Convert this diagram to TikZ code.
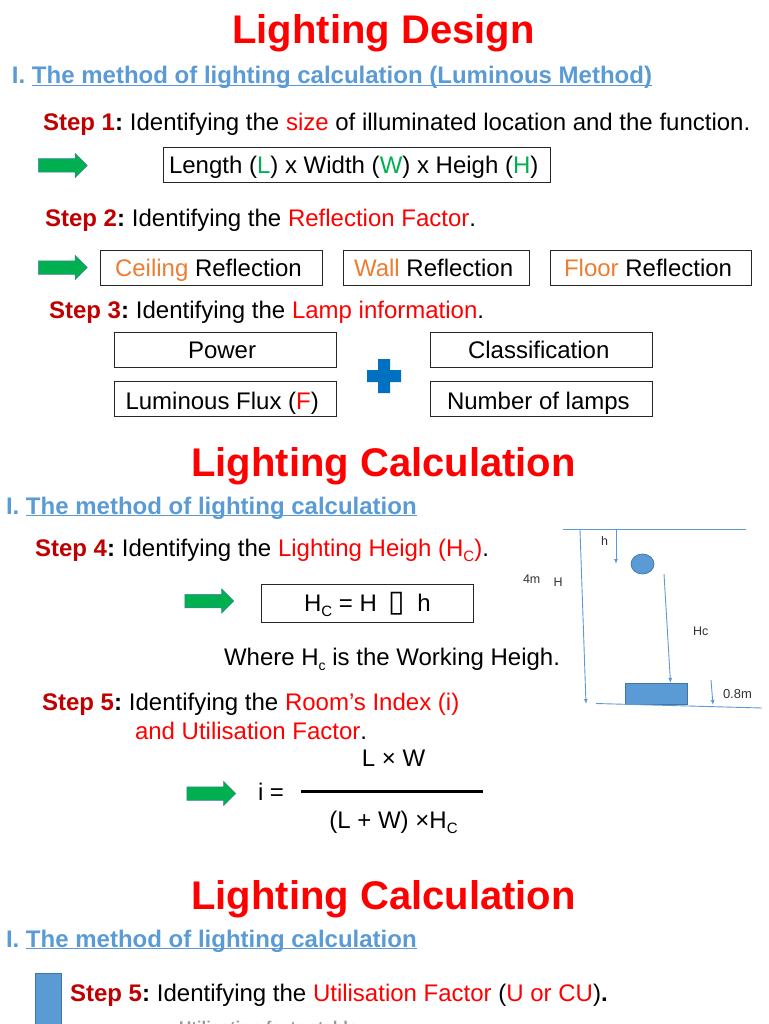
\documentclass[tikz,border=0pt]{standalone}
\usepackage{fontspec}
\setmainfont{Liberation Sans}
\newfontfamily\symfont{DejaVu Sans}
\usetikzlibrary{shapes.arrows,shapes.geometric,arrows.meta}
\definecolor{tred}{HTML}{FF0000}
\definecolor{sred}{HTML}{C00000}
\definecolor{lblue}{HTML}{5B9BD5}
\definecolor{ggreen}{HTML}{00B050}
\definecolor{oorange}{HTML}{ED7D31}
\definecolor{plusblue}{HTML}{0070C0}
\newcommand{\Rd}[1]{\textcolor{tred}{#1}}
\newcommand{\Gn}[1]{\textcolor{ggreen}{#1}}
\newcommand{\Or}[1]{\textcolor{oorange}{#1}}
\newcommand{\St}[1]{\textcolor{sred}{\textbf{Step #1}}\textbf{:}\hspace{-2pt}}
\newcommand{\Sb}[1]{\raisebox{-0.22em}{\fontsize{15}{15}\selectfont #1}}
\newcommand{\Ul}[1]{\underline{\smash{#1}}}
\tikzset{
 x=1pt,y=-1pt,
 every node/.style={inner sep=0pt,outer sep=0pt},
 titletext/.style={anchor=base,text=tred,font=\fontsize{40}{44}\selectfont\bfseries},
 headtext/.style={anchor=base west,text=lblue,font=\fontsize{24}{28}\selectfont\bfseries},
 bodytext/.style={anchor=base west,font=\fontsize{24}{28}\selectfont},
 boxed/.style={draw=black!85,line width=1pt,fill=white},
 greenarrow/.style={single arrow,draw=lblue!80!black,line width=.5pt,fill=ggreen,inner xsep=0pt,inner ysep=6.5pt,minimum height=49pt,minimum width=24pt,single arrow head extend=5.5pt,single arrow head indent=0pt},
 smalltext/.style={font=\fontsize{12.5}{14}\selectfont,text=black!80},
 dim/.style={draw=lblue,line width=.9pt,-{Latex[length=5pt,width=4pt]}},
 dimline/.style={draw=lblue,line width=.9pt},
 shapeblue/.style={fill=lblue,draw=lblue!75!black,line width=.7pt},
}
\begin{document}
\begin{tikzpicture}
\useasboundingbox (0,0) rectangle (768,1024);
\clip (0,0) rectangle (768,1024);
% Section 1
\node[titletext] (t1) at (383.5,43.5) {Lighting Design};
\node[headtext] (h1) at (12,83.5) {I. \Ul{The method of lighting calculation (Luminous Method)}};
\node[bodytext] (s1) at (43,131) {\St{1} Identifying the \Rd{size} of illuminated location and the function.};
\node[greenarrow] (a1) at (59.5,165.5) {};
\node[boxed,minimum width=387pt,minimum height=35pt] (b1) at (357,165.5) {};
\node[bodytext] (b1t) at (169,174) {Length (\Gn{L}) x Width (\Gn{W}) x Heigh (\Gn{H})};
\node[bodytext] (s2) at (45,226) {\St{2} Identifying the \Rd{Reflection Factor}.};
\node[greenarrow] (a2) at (59.5,267.5) {};
\node[boxed,minimum width=222pt,minimum height=35pt] (c1) at (211,267.5) {};
\node[bodytext] (c1t) at (115,276) {\Or{Ceiling} Reflection};
\node[boxed,minimum width=186pt,minimum height=35pt] (c2) at (436,267.5) {};
\node[bodytext] (c2t) at (354,276) {\Or{Wall} Reflection};
\node[boxed,minimum width=201pt,minimum height=35pt] (c3) at (650.5,267.5) {};
\node[bodytext] (c3t) at (564,276) {\Or{Floor} Reflection};
\node[bodytext] (s3) at (49,318) {\St{3} Identifying the \Rd{Lamp information}.};
\node[boxed,minimum width=222pt,minimum height=35pt] (p1) at (225,349.5) {};
\node[bodytext] (p1t) at (188,358) {Power};
\node[boxed,minimum width=222pt,minimum height=35pt] (p2) at (225,399) {};
\node[bodytext] (p2t) at (125.5,409) {Luminous Flux (\Rd{F})};
\node[boxed,minimum width=222pt,minimum height=35pt] (p3) at (541.5,349.5) {};
\node[bodytext] (p3t) at (468,358) {Classification};
\node[boxed,minimum width=222pt,minimum height=35pt] (p4) at (541.5,399) {};
\node[bodytext] (p4t) at (447,409) {Number of lamps};
\path[fill=plusblue] (378,359) rectangle (390,393) (367,370) rectangle (401,382);
% Section 2
\node[titletext] (t2) at (383.5,476) {Lighting Calculation};
\node[headtext] (h2) at (6,514) {I. \Ul{The method of lighting calculation}};
\node[bodytext] (s4) at (35,556) {\St{4} Identifying the \Rd{Lighting Heigh (H\Sb{C})}.};
\node[greenarrow] (a4) at (206,601) {};
\node[boxed,minimum width=212pt,minimum height=38pt] (f4) at (367,603.5) {};
\node[bodytext] (f4t) at (304,611) {H\Sb{C} = H\hspace{12pt}{\symfont\fontsize{30}{30}\selectfont ▯}\hspace{12pt}h};
\node[bodytext] (w4) at (224,665) {Where H\raisebox{-0.22em}{\fontsize{14}{14}\selectfont c} is the Working Heigh.};
\node[bodytext] (s5) at (42,710) {\St{5} Identifying the \Rd{Room’s Index (i)}};
\node[bodytext] (s5b) at (135,739) {\Rd{and Utilisation Factor}.};
\node[greenarrow] (a5) at (208,793.5) {};
\node[bodytext] (ieq) at (258,800) {i =};
\node[bodytext,anchor=base] (num) at (393.5,766) {L × W};
\node[bodytext,anchor=base] (den) at (393.5,828) {(L + W) ×H\Sb{C}};
\coordinate (barl) at (301,791);
\coordinate (barr) at (483,791);
\draw[line width=3pt] (barl) -- (barr);
% Sketch
\coordinate (ceilL) at (563,529.5);
\coordinate (ceilR) at (746,529.5);
\draw[dimline] (ceilL) -- (ceilR);
\coordinate (Ht) at (580,530); \coordinate (Hb) at (586,704);
\draw[dim] (Ht) -- (Hb);
\coordinate (ht) at (616,530); \coordinate (hb) at (616,564);
\draw[dim] (ht) -- (hb);
\node[shapeblue,ellipse,minimum width=23pt,minimum height=20pt] (lamp) at (642.5,564) {};
\coordinate (Hct) at (664,574); \coordinate (Hcb) at (670.5,683);
\node[shapeblue,minimum width=62pt,minimum height=21pt] (table) at (656.5,694) {};
\draw[dim] (Hct) -- (Hcb);
\coordinate (dt) at (711,680); \coordinate (db) at (713,705);
\draw[dim] (dt) -- (db);
\coordinate (fl) at (596,703.5); \coordinate (fr) at (762,708);
\draw[dimline] (fl) -- (fr);
\node[smalltext,anchor=base west] (lh) at (601,545) {h};
\node[smalltext,anchor=base west] (l4) at (523,583) {4m};
\node[smalltext,anchor=base west] (lH) at (553.5,586) {H};
\node[smalltext,anchor=base west] (lHc) at (693,635) {Hc};
\node[smalltext,anchor=base west,font=\fontsize{13}{14}\selectfont] (l08) at (723,698) {0.8m};
% Section 3
\node[titletext] (t3) at (383.5,909) {Lighting Calculation};
\node[headtext] (h3) at (6,947) {I. \Ul{The method of lighting calculation}};
\node[shapeblue,anchor=north west,minimum width=26pt,minimum height=60pt] (bar) at (35.5,973.5) {};
\node[bodytext] (s6) at (70,1001) {\St{5} Identifying the \Rd{Utilisation Factor} (\Rd{U or CU})\textbf{.}};
\node[anchor=base west,font=\fontsize{17}{18}\selectfont\bfseries,text=black!40] (ut) at (179,1033) {Utilisation factor table};
\end{tikzpicture}
\end{document}
